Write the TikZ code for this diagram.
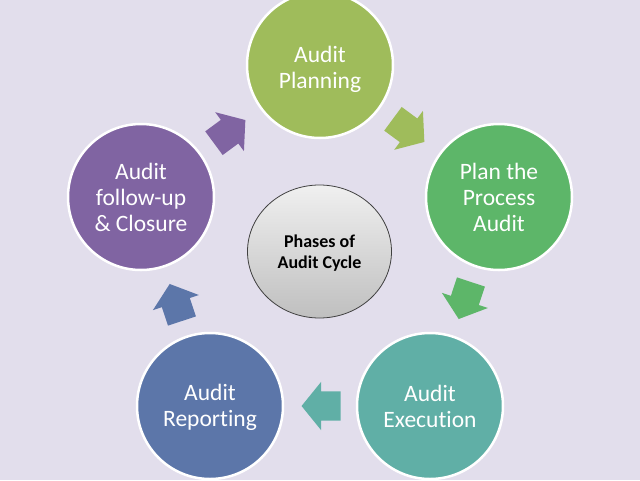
\documentclass[tikz,border=0pt]{standalone}
\usepackage{fontspec}
\setmainfont[Ligatures=NoCommon]{Carlito}
\usetikzlibrary{shapes.arrows}
\usetikzlibrary{shapes.geometric}
\definecolor{backcol}{HTML}{E2DEEC}
\definecolor{plancol}{HTML}{9FBC5B}
\definecolor{proccol}{HTML}{5DB669}
\definecolor{execcol}{HTML}{60AFA6}
\definecolor{repocol}{HTML}{5C76A9}
\definecolor{closcol}{HTML}{8064A2}
\tikzstyle{phase} = [circle, draw=white, line width=2.5pt, minimum size=146pt, inner sep=0pt,
text=white, align=center, font=\fontsize{23.5}{26}\selectfont]
\tikzstyle{hub} = [ellipse, draw=black!75, line width=0.8pt, minimum width=144pt, minimum height=133pt, inner sep=0pt,
top color=black!6, bottom color=black!25, align=center, font=\fontsize{18}{21}\selectfont\bfseries]
\tikzstyle{pointer} = [single arrow, draw=none, minimum height=39pt, inner xsep=0pt, inner ysep=14.5pt,
single arrow head extend=9.5pt, single arrow tip angle=102, sloped, allow upside down, xshift=-7pt]

\begin{document}
\begin{tikzpicture}[x=1pt, y=-1pt]
\useasboundingbox (0,0) rectangle (640,480);
\clip (0,0) rectangle (640,480);
\fill [backcol] (0,0) rectangle (640,480);

\node [phase, fill=plancol] (Planning) at (320,65) {\rule{0pt}{25pt}Audit\\Planning};
\node [phase, fill=proccol] (Process) at (499,197) {Plan the\\Process\\Audit};
\node [phase, fill=execcol] (Execution) at (430,406) {Audit\\Execution};
\node [phase, fill=repocol] (Reporting) at (210,406) {\rule{0pt}{19pt}Audit\\Reporting};
\node [phase, fill=closcol] (Closure) at (141,197) {Audit\\follow-up\\\& Closure};
\node [hub] (Phases) at (319.5,251.5) {\rule{0pt}{16pt}Phases of\\Audit Cycle};

\path (Planning) -- node [pointer, fill=plancol] (PlanArrow) {} (Process);
\path (Process) -- node [pointer, fill=proccol] (ProcArrow) {} (Execution);
\path (Execution) -- node [pointer, fill=execcol] (ExecArrow) {} (Reporting);
\path (Reporting) -- node [pointer, fill=repocol] (RepoArrow) {} (Closure);
\path (Closure) -- node [pointer, fill=closcol] (ClosArrow) {} (Planning);
\end{tikzpicture}
\end{document}
